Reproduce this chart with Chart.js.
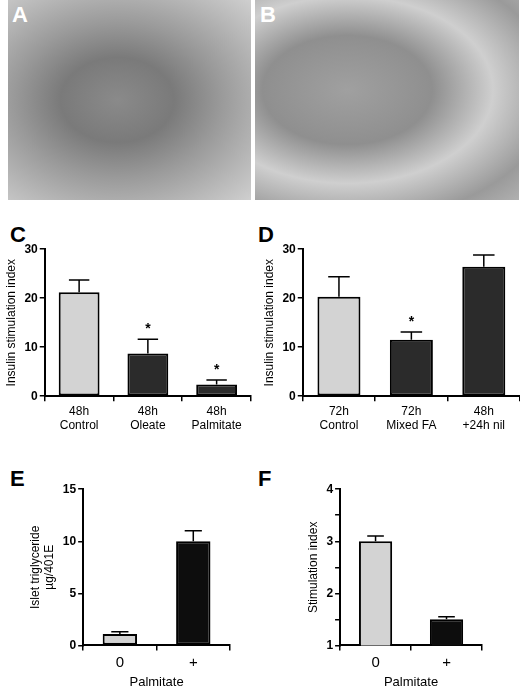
<!DOCTYPE html>
<html><head><meta charset="utf-8">
<script src="https://cdn.jsdelivr.net/npm/chart.js@4"></script>
<style>
body{margin:0;background:#fff;width:520px;height:690px;position:relative;overflow:hidden;font-family:"Liberation Sans",Arial,sans-serif}
.img{position:absolute;background:radial-gradient(ellipse at 45% 50%,#8a8a8a 0,#7a7a7a 30%,#9a9a9a 55%,#b8b8b8 80%,#cfcfcf 100%)}
.lt{position:absolute;font-weight:bold;font-size:22px}
canvas{position:absolute}
</style></head><body>
<div class="img" style="left:8px;top:0;width:243px;height:200px"></div>
<div class="img" style="left:255px;top:0;width:264px;height:200px;background:radial-gradient(ellipse at 35% 45%,#a0a0a0 0,#8f8f8f 35%,#cfcfcf 60%,#9a9a9a 85%,#b0b0b0 100%)"></div>
<div class="lt" style="left:12px;top:2px;color:#fff">A</div>
<div class="lt" style="left:260px;top:2px;color:#fff">B</div>
<div class="lt" style="left:10px;top:222px">C</div>
<div class="lt" style="left:258px;top:222px">D</div>
<div class="lt" style="left:10px;top:466px">E</div>
<div class="lt" style="left:258px;top:466px">F</div>
<canvas id="c" width="255" height="196" style="left:0;top:240px"></canvas>
<canvas id="d" width="262" height="196" style="left:258px;top:240px"></canvas>
<canvas id="e" width="240" height="212" style="left:0;top:480px"></canvas>
<canvas id="f" width="240" height="212" style="left:258px;top:480px"></canvas>
<script>
const catsC=[['48h','Control'],['48h','Oleate'],['48h','Palmitate']];
const valsC=[21.2,8.7,2.4];
const errC=[2.5,2.9,0.9];
const starC=[false,true,true];
const catsD=[['72h','Control'],['72h','Mixed FA'],['48h','+24h nil']];
const valsD=[20.3,11.5,26.4];
const errD=[4.1,1.6,2.4];
const starD=[false,true,false];
const catsE=['0','+'];
const valsE=[1.1,10.0];
const errE=[0.2,1.0];
const catsF=['0','+'];
const valsF=[3.0,1.5];
const errF=[0.1,0.05];
const LIGHT='#d3d3d3',DARK='#2b2b2b',BLACK='#0d0d0d';

const errPlugin={id:'err',afterDatasetsDraw(ch,a,o){
  const ctx=ch.ctx,y=ch.scales.y,meta=ch.getDatasetMeta(0);
  const ds=ch.data.datasets[0];
  ctx.save();ctx.strokeStyle='#000';ctx.lineWidth=1.5;ctx.fillStyle='#000';
  meta.data.forEach((b,i)=>{
    const v=ds.data[i],e=ds.err[i];const y0=y.getPixelForValue(v),y1=y.getPixelForValue(v+e);
    const hw=b.width*0.25;
    ctx.beginPath();ctx.moveTo(b.x,y0);ctx.lineTo(b.x,y1);ctx.moveTo(b.x-hw,y1);ctx.lineTo(b.x+hw,y1);ctx.stroke();
    if(ds.stars&&ds.stars[i]){ctx.font='bold 14px "Liberation Sans"';ctx.textAlign='center';ctx.fillText('*',b.x,y1-6);}
  });ctx.restore();}};

function mk(id,cats,vals,err,stars,cols,ymin,ymax,step,title,xtitle,pad,minor,bp){
  new Chart(document.getElementById(id),{type:'bar',
    data:{labels:cats,datasets:[{data:vals,err:err,stars:stars,backgroundColor:cols,borderColor:'#000',borderWidth:2,borderSkipped:false,categoryPercentage:0.9,barPercentage:bp}]},
    options:{responsive:false,animation:false,layout:{padding:pad},
      plugins:{legend:{display:false},tooltip:{enabled:false}},
      scales:{
        x:{grid:{drawOnChartArea:false,color:'#000',tickLength:5,lineWidth:1.5},border:{color:'#000',width:2},
           ticks:{color:'#000',font:{size:xtitle?15:12,family:'"Liberation Sans"'},padding:3},
           title:{display:!!xtitle,text:xtitle,color:'#000',font:{size:13},padding:0}},
        y:{min:ymin,max:ymax,grid:{drawOnChartArea:false,color:'#000',tickLength:5,lineWidth:1.5},border:{color:'#000',width:2},
           ticks:{stepSize:step,color:'#000',font:{size:12,weight:'bold',family:'"Liberation Sans"'},padding:2,
             callback:v=>minor&&v%1!==0?'':v},
           title:{display:true,text:title,color:'#000',font:{size:12,family:'"Liberation Sans"'},padding:4}}}},
    plugins:[errPlugin]});
}
mk('c',catsC,valsC,errC,starC,[LIGHT,DARK,DARK],0,30,10,'Insulin stimulation index',null,{top:8,right:4,left:0,bottom:0},false,0.66);
mk('d',catsD,valsD,errD,starD,[LIGHT,DARK,DARK],0,30,10,'Insulin stimulation index',null,{top:8,right:0,left:0,bottom:0},false,0.66);
mk('e',catsE,valsE,errE,null,[LIGHT,BLACK],0,15,5,['Islet triglyceride','µg/401E'],'Palmitate',{top:8,right:10,left:24,bottom:2},false,0.52);
mk('f',catsF,valsF,errF,null,[LIGHT,BLACK],1,4,0.5,'Stimulation index','Palmitate',{top:8,right:16,left:44,bottom:2},true,0.52);
</script></body></html>
